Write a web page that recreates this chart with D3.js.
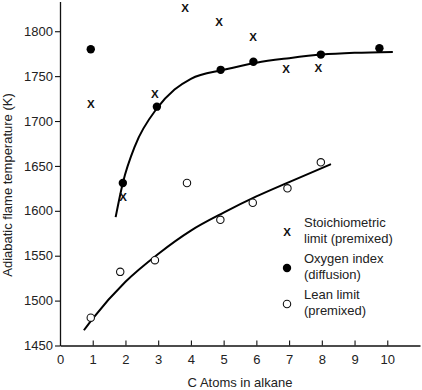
<!DOCTYPE html>
<html>
<head>
<meta charset="utf-8">
<script src="https://cdnjs.cloudflare.com/ajax/libs/d3/7.8.5/d3.min.js"></script>
<style>
  body { margin: 0; background: #fff; }
  svg { display: block; font-family: "Liberation Sans", Arial, sans-serif; }
</style>
</head>
<body>
<svg id="chart" width="422" height="390"></svg>
<script>
// values
const stoichAtoms = [0.94, 1.93, 2.9, 3.82, 4.86, 5.9, 6.91, 7.89];
const stoichTemp  = [1719, 1615, 1730, 1826, 1810, 1794, 1758, 1759];

const oxyAtoms = [0.94, 1.92, 2.96, 4.91, 5.91, 7.97, 9.76];
const oxyTemp  = [1780, 1631, 1716, 1757, 1766, 1774, 1781];

const leanAtoms = [0.94, 1.84, 2.9, 3.88, 4.9, 5.89, 6.95, 7.97];
const leanTemp  = [1481, 1532, 1545, 1631, 1590, 1609, 1625, 1654];

// fitted curves
const oxyFitAtoms = [1.7, 1.92, 2.3, 2.96, 3.5, 4, 5, 6, 7, 8, 9, 10.17];
const oxyFitTemp  = [1593, 1631, 1673, 1714, 1735, 1747, 1757, 1765, 1770, 1774, 1776, 1777];

const leanFitAtoms = [0.73, 1, 2, 3, 4, 5, 6, 7, 8.28];
const leanFitTemp  = [1467, 1480, 1521, 1552, 1578, 1598, 1616, 1632, 1652];

const xTicks = d3.range(0, 11);
const yTicks = d3.range(1450, 1801, 50);

const legendItems = [
  {sym: "x", lines: ["Stoichiometric", "limit (premixed)"]},
  {sym: "filled", lines: ["Oxygen index", "(diffusion)"]},
  {sym: "open", lines: ["Lean limit", "(premixed)"]}
];

const svg = d3.select("#chart");
const x = d3.scaleLinear().domain([0, 11]).range([60, 420]);
const y = d3.scaleLinear().domain([1450, 1833]).range([345.5, 1.6]);

// axes
const gx = svg.append("g").attr("transform", "translate(0," + y(1450) + ")")
  .call(d3.axisBottom(x).tickValues(xTicks).tickFormat(d3.format("d"))
    .tickSizeInner(-5).tickSizeOuter(0).tickPadding(9.5));
const gy = svg.append("g").attr("transform", "translate(" + x(0) + ",0)")
  .call(d3.axisLeft(y).tickValues(yTicks).tickFormat(d3.format("d"))
    .tickSizeInner(5).tickSizeOuter(0).tickPadding(2));

[gx, gy].forEach(g => {
  g.select(".domain").attr("stroke", "#111").attr("stroke-width", 1.3);
  g.selectAll(".tick line").attr("stroke", "#111").attr("stroke-width", 1.1);
  g.selectAll(".tick text").attr("font-size", 13).attr("fill", "#222")
    .attr("font-family", "'Liberation Sans', Arial, sans-serif");
});
gx.selectAll(".tick").filter(d => d === 0).select("line").remove();

svg.append("text")
  .attr("x", 240).attr("y", 387)
  .attr("text-anchor", "middle").attr("font-size", 13).attr("fill", "#222")
  .text("C Atoms in alkane");

svg.append("text")
  .attr("transform", "translate(12,185) rotate(-90)")
  .attr("text-anchor", "middle").attr("font-size", 13).attr("fill", "#222")
  .text("Adiabatic flame temperature (K)");

// fit curves
const line = d3.line().x(d => x(d[0])).y(d => y(d[1])).curve(d3.curveMonotoneX);
svg.append("path")
  .datum(d3.zip(oxyFitAtoms, oxyFitTemp))
  .attr("d", line).attr("fill", "none").attr("stroke", "#000").attr("stroke-width", 2);
svg.append("path")
  .datum(d3.zip(leanFitAtoms, leanFitTemp))
  .attr("d", line).attr("fill", "none").attr("stroke", "#000").attr("stroke-width", 2);

// markers
function drawX(sel) {
  sel.append("text")
    .attr("text-anchor", "middle").attr("dominant-baseline", "central")
    .attr("font-size", 11.5).attr("font-weight", "bold").attr("fill", "#111")
    .text("X");
}

svg.append("g").selectAll("g")
  .data(d3.zip(stoichAtoms, stoichTemp))
  .join("g")
  .attr("transform", d => "translate(" + x(d[0]) + "," + y(d[1]) + ")")
  .call(drawX);

svg.append("g").selectAll("circle")
  .data(d3.zip(oxyAtoms, oxyTemp))
  .join("circle")
  .attr("cx", d => x(d[0])).attr("cy", d => y(d[1])).attr("r", 4.2)
  .attr("fill", "#000");

svg.append("g").selectAll("circle")
  .data(d3.zip(leanAtoms, leanTemp))
  .join("circle")
  .attr("cx", d => x(d[0])).attr("cy", d => y(d[1])).attr("r", 3.7)
  .attr("fill", "#fff").attr("stroke", "#111").attr("stroke-width", 1.1);

// legend
const legend = svg.append("g").attr("transform", "translate(287,232)");
const items = legend.selectAll("g").data(legendItems).join("g")
  .attr("transform", (d, i) => "translate(0," + (i * 36) + ")");

items.filter(d => d.sym === "x").call(drawX);
items.filter(d => d.sym === "filled").append("circle").attr("r", 4.2).attr("fill", "#000");
items.filter(d => d.sym === "open").append("circle").attr("r", 3.7)
  .attr("fill", "#fff").attr("stroke", "#111").attr("stroke-width", 1.1);

items.selectAll("text.lbl").data(d => d.lines).join("text")
  .attr("class", "lbl")
  .attr("x", 17).attr("y", (d, i) => -5 + i * 16)
  .attr("font-size", 13).attr("fill", "#222")
  .text(d => d);
</script>
</body>
</html>
